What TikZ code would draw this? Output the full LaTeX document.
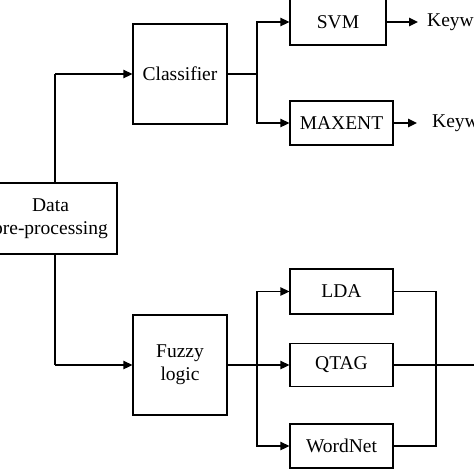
\documentclass[tikz,border=0pt]{standalone}
\usepackage{fontspec}
\setmainfont{Liberation Serif}
\usetikzlibrary{arrows.meta}
\tikzstyle{arrow} = [line width=1.3pt,-{Triangle[length=9pt,width=8.5pt]}]
\tikzstyle{line} = [line width=1.3pt]
\tikzstyle{block} = [draw,line width=1.3pt,align=center,inner sep=0pt,font=\fontsize{19.5}{23}\selectfont]

\begin{document}
\begin{tikzpicture}[x=1pt,y=-1pt]
\useasboundingbox (0,0) rectangle (474,474);
\clip (0,0) rectangle (474,474);

\node (data) [block,minimum width=133pt,minimum height=71pt] at (50.5,218.5) {Data\\pre-processing};
\node (classifier) [block,minimum width=94pt,minimum height=100pt] at (180,74) {Classifier};
\node (fuzzy) [block,minimum width=94pt,minimum height=100pt] at (180,365) {Fuzzy\\logic};
\node (svm) [block,minimum width=96pt,minimum height=46pt] at (338,22) {SVM};
\node (maxent) [block,minimum width=103pt,minimum height=44pt] at (341.5,123) {MAXENT};
\node (lda) [block,minimum width=103pt,minimum height=45pt] at (341.5,291.5) {LDA};
\node (qtag) [block,minimum width=103pt,minimum height=43pt] at (341.5,365) {QTAG};
\node (wordnet) [block,minimum width=103pt,minimum height=44pt] at (341.5,446) {WordNet};
\node (kw1) [anchor=west,inner xsep=9pt,inner ysep=0pt,font=\fontsize{19.5}{23}\selectfont] at (418,22) {Keyw};
\node (kw2) [anchor=west,inner xsep=15pt,inner ysep=0pt,font=\fontsize{19.5}{23}\selectfont] at (417,123) {Keyw};

% branch points
\coordinate (up) at (55,74);
\coordinate (down) at (55,365);
\coordinate (fork1) at (257,74);
\coordinate (fork2) at (257,365);
\coordinate (join) at (436,365);
\coordinate (out) at (480,365);

\draw [line] (data.north -| up) -- (up);
\draw [arrow] (up) -- (classifier);
\draw [line] (data.south -| down) -- (down);
\draw [arrow] (down) -- (fuzzy);

\draw [line] (classifier) -- (fork1);
\draw [arrow] (fork1) |- (svm);
\draw [arrow] (fork1) |- (maxent);
\draw [arrow] (svm) -- (kw1);
\draw [arrow] (maxent) -- (kw2);

\draw [arrow] (fuzzy) -- (qtag);
\draw [arrow] (fork2) |- (lda);
\draw [arrow] (fork2) |- (wordnet);

\draw [line] (lda) -| (join);
\draw [line] (wordnet) -| (join);
\draw [line] (qtag) -- (out);

\end{tikzpicture}
\end{document}
